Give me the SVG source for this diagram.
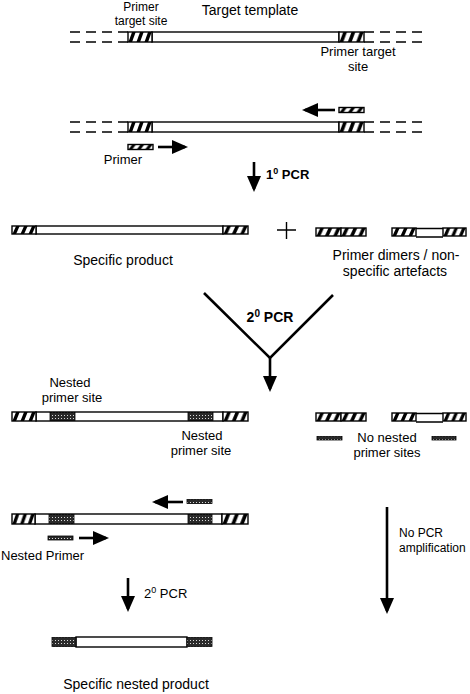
<svg xmlns="http://www.w3.org/2000/svg" width="470" height="694" viewBox="0 0 470 694">
<style>
text{font-family:"Liberation Sans",Arial,Helvetica,sans-serif;fill:#000}
.l13{font-size:13px}
.l14{font-size:14px}
.l12{font-size:12px}
.mid{text-anchor:middle}
.b{font-weight:bold}
.hb{fill:url(#hatch);stroke:#000;stroke-width:1.4}
.db{fill:url(#dots);stroke:#000;stroke-width:0.8}
.wb{fill:#fff;stroke:#000;stroke-width:1.4}
.ln{stroke:#000;stroke-width:1.4;fill:none}
.dash{stroke:#000;stroke-width:1.4;stroke-dasharray:10 6;fill:none}
.arr{stroke:#000;stroke-width:2.6;fill:none;marker-end:url(#ah)}
.vline{stroke:#000;stroke-width:2.6;fill:none}
</style>
<defs>
<pattern id="hatch" patternUnits="objectBoundingBox" patternContentUnits="objectBoundingBox" width="0.3333" height="1">
<rect x="0" y="0" width="0.3333" height="1" fill="#fff"/>
<polygon points="0.02,1 0.17,1 0.32,0 0.17,0" fill="#000"/>
</pattern>
<pattern id="dots" patternUnits="userSpaceOnUse" width="3" height="3">
<rect width="3" height="3" fill="#2a2a2a"/>
<rect x="1" y="1" width="1" height="1" fill="#d8d8d8"/>
</pattern>
<marker id="ah" markerUnits="userSpaceOnUse" viewBox="0 0 16 14" refX="13" refY="7" markerWidth="16" markerHeight="14" orient="auto">
<path d="M0,0 L16,7 L0,14 Z" fill="#000"/>
</marker>
</defs>

<g id="template">
<path class="dash" d="M70,32 H128 M70,42 H128 M364,32 H423 M364,42 H423"/>
<rect class="wb" x="152" y="32" width="187" height="10"/>
<rect class="hb" x="128" y="32" width="24" height="10"/>
<rect class="hb" x="339" y="32" width="25" height="10"/>
<text class="l12 mid" x="141" y="11">Primer</text>
<text class="l12 mid" x="141" y="24.5">target site</text>
<text class="l14 mid" x="250" y="15">Target template</text>
<text class="l13 mid" x="358" y="56">Primer target</text>
<text class="l13 mid" x="358" y="71">site</text>
</g>

<g id="template-primed">
<path class="dash" d="M70,122 H128 M70,132 H128 M364,122 H423 M364,132 H423"/>
<rect class="wb" x="152" y="122" width="187" height="10"/>
<rect class="hb" x="128" y="122" width="24" height="10"/>
<rect class="hb" x="339" y="122" width="25" height="10"/>
</g>

<g id="primer-reverse">
<rect class="hb" x="339" y="107.5" width="25" height="5"/>
</g>

<g id="primer-forward">
<rect class="hb" x="128" y="144.5" width="25" height="5"/>
<text class="l13 mid" x="123" y="164">Primer</text>
</g>

<g id="pcr1-label">
<text class="l13 b" x="266" y="179">1<tspan dy="-5" font-size="9">0</tspan><tspan dy="5"> PCR</tspan></text>
</g>

<g id="specific-product">
<rect class="wb" x="36" y="226" width="187" height="8"/>
<rect class="hb" x="12" y="226" width="24" height="8"/>
<rect class="hb" x="223" y="226" width="25" height="8"/>
<text class="l14 mid" x="123" y="265">Specific product</text>
</g>

<g id="plus">
<path class="ln" d="M277,230 H296 M286.5,222 V239"/>
</g>

<g id="artefacts">
<rect class="hb" x="316" y="228" width="25" height="8"/>
<rect class="hb" x="341" y="228" width="25" height="8"/>
<path class="ln" d="M416,228.5 H443 M416,237 H443"/>
<rect class="hb" x="392" y="228" width="24" height="8"/>
<rect class="hb" x="443" y="228" width="23" height="8"/>
<text class="l14 mid" x="396" y="260">Primer dimers / non-</text>
<text class="l14 mid" x="395" y="276">specific artefacts</text>
</g>

<g id="pcr2-label">
<text class="l14 b mid" x="270" y="322">2<tspan dy="-5" font-size="10">0</tspan><tspan dy="5"> PCR</tspan></text>
</g>

<g id="nested-product">
<rect class="wb" x="36" y="412" width="187" height="9"/>
<rect class="hb" x="12" y="412" width="24" height="9"/>
<rect class="db" x="50" y="412.5" width="25" height="8"/>
<rect class="db" x="188" y="412.5" width="25" height="8"/>
<rect class="hb" x="223" y="412" width="25" height="9"/>
<text class="l13 mid" x="70" y="387">Nested</text>
<text class="l13 mid" x="72" y="402">primer site</text>
<text class="l13 mid" x="202" y="440">Nested</text>
<text class="l13 mid" x="201" y="455">primer site</text>
</g>

<g id="artefacts-2">
<rect class="hb" x="316" y="413" width="25" height="8"/>
<rect class="hb" x="341" y="413" width="25" height="8"/>
<path class="ln" d="M416,413.5 H443 M416,422 H443"/>
<rect class="hb" x="392" y="413" width="24" height="8"/>
<rect class="hb" x="443" y="413" width="23" height="8"/>
<rect class="db" x="317" y="436.5" width="25" height="3.5"/>
<rect class="db" x="432" y="436.5" width="24" height="3.5"/>
<text class="l13 mid" x="387" y="442">No nested</text>
<text class="l13 mid" x="387" y="457">primer sites</text>
</g>

<g id="nested-template">
<rect class="wb" x="35" y="514" width="187" height="10"/>
<rect class="hb" x="12" y="514" width="23" height="10"/>
<rect class="db" x="49" y="514.5" width="25" height="9"/>
<rect class="db" x="188" y="514.5" width="24" height="9"/>
<rect class="hb" x="222" y="514" width="26" height="10"/>
</g>

<g id="nested-primer-reverse">
<rect class="db" x="187" y="499.5" width="25" height="4"/>
</g>

<g id="nested-primer-forward">
<rect class="db" x="48" y="536" width="25" height="4"/>
<text class="l13" x="1" y="560">Nested Primer</text>
</g>

<g id="no-pcr-label">
<text class="l12" x="399" y="537">No PCR</text>
<text class="l12" x="399" y="552">amplification</text>
</g>

<g id="pcr2b-label">
<text class="l13" x="144" y="598">2<tspan dy="-5" font-size="9">0</tspan><tspan dy="5"> PCR</tspan></text>
</g>

<g id="final-product">
<rect class="wb" x="76" y="637" width="111" height="10"/>
<rect class="db" x="52" y="637.5" width="24" height="9"/>
<rect class="db" x="187" y="637.5" width="25" height="9"/>
<text class="l14 mid" x="136" y="689">Specific nested product</text>
</g>

<g id="connectors">
<line class="arr" x1="335" y1="110" x2="305" y2="110"/>
<line class="arr" x1="158" y1="147" x2="185" y2="147"/>
<line class="arr" x1="254" y1="162" x2="254" y2="189"/>
<polyline class="vline" points="204,293 270,358 333,295"/>
<line class="arr" x1="270" y1="358" x2="270" y2="389"/>
<line class="arr" x1="183" y1="502" x2="155" y2="502"/>
<line class="arr" x1="79" y1="538" x2="106" y2="538"/>
<line class="arr" x1="387" y1="507" x2="387" y2="611"/>
<line class="arr" x1="128" y1="578" x2="128" y2="609"/>
</g>
</svg>
